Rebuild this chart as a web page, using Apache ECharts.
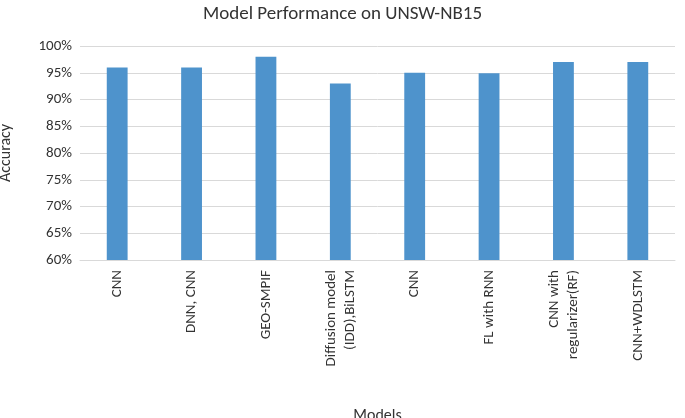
<!DOCTYPE html><html><head><meta charset="utf-8"><script src="https://cdn.jsdelivr.net/npm/echarts@6/dist/echarts.min.js"></script></head><body style="margin:0"><div id="c" style="width:685px;height:418px"></div><script>
const categories=["CNN","DNN, CNN","GEO-SMPIF","Diffusion model\n(IDD),BiLSTM","CNN","FL with RNN","CNN with\nregularizer(RF)","CNN+WDLSTM"];
const accuracy=[96,96,98,93,95,94.9,97,97];
const c=echarts.init(document.getElementById('c'));
const f='Calibri, Carlito, "Open Sans", sans-serif';
c.setOption({
title:{text:'Model Performance on UNSW-NB15',left:'center',top:0,textStyle:{fontFamily:f,fontSize:19,fontWeight:'normal',color:'#333'}},
grid:{left:80,right:10,top:46,bottom:158,outerBoundsMode:'none',containLabel:false},
xAxis:{type:'category',data:categories,name:'Models',nameLocation:'middle',nameGap:148,nameTextStyle:{fontFamily:f,fontSize:16,color:'#333'},
axisTick:{show:false},axisLine:{lineStyle:{color:'#d9d9d9'}},axisLabel:{rotate:90,interval:0,margin:10,fontFamily:f,fontSize:15,color:'#333',lineHeight:19}},
yAxis:{type:'value',min:60,max:100,interval:5,name:'Accuracy',nameLocation:'middle',nameGap:66,nameTextStyle:{fontFamily:f,fontSize:16,color:'#333'},
axisLabel:{formatter:'{value}%',fontFamily:f,fontSize:15,color:'#333'},splitLine:{lineStyle:{color:'#d9d9d9'}}},
series:[{type:'bar',data:accuracy,barWidth:'28%',itemStyle:{color:'#4e93cc'}}]
});
</script></body></html>
